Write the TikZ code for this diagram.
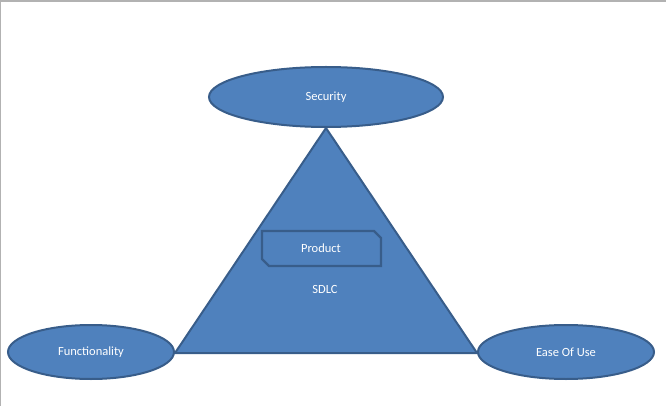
\documentclass[tikz,border=0pt]{standalone}
\usepackage{fontspec}
\setmainfont{Carlito}
\usetikzlibrary{shapes.geometric}
\definecolor{fillb}{HTML}{4F81BD}
\definecolor{lineb}{HTML}{385D8A}
\begin{document}
\begin{tikzpicture}[x=1pt,y=-1pt,
  shp/.style={fill=fillb,draw=lineb,line width=2pt},
  el/.style={shp,ellipse,inner sep=0pt,text=white,font=\fontsize{12.5}{14}\selectfont},
  lbl/.style={text=white,font=\fontsize{12.5}{14}\selectfont}]
\useasboundingbox (0,0) rectangle (666,406);
\fill[gray!60] (0,0) rectangle (666,2);
\fill[gray!60] (0,0) rectangle (1,406);
\coordinate (apex) at (326,128);
\coordinate (bl) at (175,353);
\coordinate (br) at (477,353);
\draw[shp,line join=miter] (apex) -- (bl) -- (br) -- cycle;
\draw[draw=lineb,line width=2.2pt] (262,231) -- (374,231) -- (381,238) -- (381,266) -- (269,266) -- (262,259) -- cycle;
\node[lbl] (product) at (321,248) {Product};
\node[lbl] (sdlc) at (325,289) {SDLC};
\node[el,minimum width=234,minimum height=60] (security) at (326,97) {Security};
\node[el,minimum width=166,minimum height=54] (func) at (91,352) {Functionality};
\node[el,minimum width=176,minimum height=54] (ease) at (566,352) {Ease Of Use};
\end{tikzpicture}
\end{document}
